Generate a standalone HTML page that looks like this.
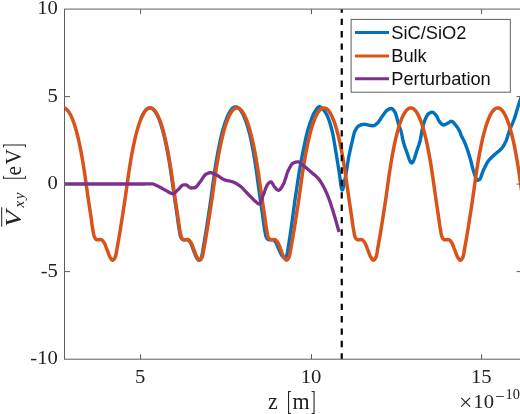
<!DOCTYPE html>
<html><head><meta charset="utf-8"><title>plot</title>
<style>
html,body{margin:0;padding:0;background:#fff;}
body{width:520px;height:414px;overflow:hidden;}
svg{display:block;}
.tk{font-family:"Liberation Serif", serif;font-size:19.5px;fill:#222;}
.lb2{font-family:"Liberation Serif", serif;font-size:22.8px;fill:#222;}
.lbi{font-family:"Liberation Serif", serif;font-size:23.7px;font-style:italic;fill:#222;}
.lb{font-family:"Liberation Serif", serif;font-size:23px;fill:#222;}
.br{font-family:"Liberation Serif", serif;font-size:23px;fill:#222;}
.lg{font-family:"Liberation Sans", sans-serif;font-size:18.3px;fill:#111;}
</style></head><body>
<svg width="520" height="414" viewBox="0 0 520 414">
<rect x="0" y="0" width="520" height="414" fill="#fff"/>
<defs><clipPath id="cp"><rect x="64.5" y="9.1" width="470" height="350.09999999999997"/></clipPath></defs>

<g clip-path="url(#cp)" fill="none" stroke-linejoin="round" stroke-linecap="butt">
<path d="M141.0,118.7 L141.5,117.5 L142.0,116.4 L142.5,115.3 L143.0,114.3 L143.5,113.4 L144.0,112.6 L144.5,111.8 L145.0,111.1 L145.5,110.5 L146.0,109.9 L146.5,109.5 L147.0,109.0 L147.5,108.7 L148.0,108.4 L148.5,108.2 L149.0,108.0 L149.5,107.9 L150.0,107.9 L150.5,108.0 L151.0,108.1 L151.5,108.2 L152.0,108.5 L152.5,108.8 L153.0,109.2 L153.5,109.6 L154.0,110.2 L154.5,110.7 L155.0,111.4 L155.5,112.1 L156.0,112.9 L156.5,113.8 L157.0,114.7 L157.5,115.7 L158.0,116.8 L158.5,118.0 L159.0,119.2 L159.5,120.5 L160.0,121.9 L160.5,123.3 L161.0,124.8 L161.5,126.4 L162.0,128.1 L162.5,129.8 L163.0,131.7 L163.5,133.6 L164.0,135.6 L164.5,137.6 L165.0,139.8 L165.5,142.1 L166.0,144.4 L166.5,146.8 L167.0,149.3 L167.5,151.9 L168.0,154.6 L168.5,157.5 L169.0,160.3 L169.5,163.3 L170.0,166.4 L170.5,169.7 L171.0,173.0 L171.5,176.4 L172.0,179.9 L172.5,183.6 L173.0,187.1 L173.5,190.6 L174.0,194.1 L174.5,197.6 L175.0,201.0 L175.5,204.4 L176.0,207.8 L176.5,211.1 L177.0,214.5 L177.5,218.0 L178.0,221.7 L178.5,225.3 L179.0,228.5 L179.5,231.4 L180.0,234.1 L180.5,236.3 L181.0,237.5 L181.5,238.3 L182.0,238.9 L182.5,239.4 L183.0,239.7 L183.5,239.8 L184.0,239.8 L184.5,239.8 L185.0,239.7 L185.5,239.7 L186.0,239.6 L186.5,239.6 L187.0,239.6 L187.5,239.7 L188.0,239.9 L188.5,240.3 L189.0,240.8 L189.5,241.4 L190.0,242.1 L190.5,242.8 L191.0,243.8 L191.5,244.9 L192.0,246.3 L192.5,247.7 L193.0,249.0 L193.5,250.3 L194.0,251.6 L194.5,252.9 L195.0,254.3 L195.5,255.6 L196.0,256.7 L196.5,257.5 L197.0,258.3 L197.5,259.1 L198.0,259.7 L198.5,260.1 L199.0,260.2 L199.5,260.0 L200.0,259.5 L200.5,258.9 L201.0,258.0 L201.5,257.0 L202.0,255.2 L202.5,252.5 L203.0,249.4 L203.5,246.3 L204.0,243.5 L204.5,240.6 L205.0,237.6 L205.5,234.5 L206.0,231.4 L206.5,228.3 L207.0,225.1 L207.5,221.8 L208.0,218.5 L208.5,215.2 L209.0,211.8 L209.5,208.5 L210.0,205.2 L210.5,201.8 L211.0,198.3 L211.5,194.6 L212.0,190.9 L212.5,187.1 L213.0,183.4 L213.5,179.7 L214.0,176.1 L214.5,172.6 L215.0,169.2 L215.5,166.0 L216.0,162.9 L216.5,159.9 L217.0,157.0 L217.5,154.2 L218.0,151.5 L218.5,148.9 L219.0,146.4 L219.5,144.0 L220.0,141.7 L220.5,139.4 L221.0,137.3 L221.5,135.2 L222.0,133.2 L222.5,131.3 L223.0,129.5 L223.5,127.7 L224.0,126.0 L224.5,124.4 L225.0,122.9 L225.5,121.4 L226.0,120.1 L226.5,118.7 L227.0,117.5 L227.5,116.3 L228.0,115.2 L228.5,114.2 L229.0,113.2 L229.5,112.3 L230.0,111.5 L230.5,110.7 L231.0,110.0 L231.5,109.4 L232.0,108.8 L232.5,108.3 L233.0,107.9 L233.5,107.6 L234.0,107.3 L234.5,107.1 L235.0,107.0 L235.5,106.9 L236.0,106.9 L236.5,107.0 L237.0,107.2 L237.5,107.4 L238.0,107.7 L238.5,108.1 L239.0,108.5 L239.5,109.0 L240.0,109.6 L240.5,110.2 L241.0,111.0 L241.5,111.7 L242.0,112.6 L242.5,113.5 L243.0,114.5 L243.5,115.5 L244.0,116.6 L244.5,117.8 L245.0,119.1 L245.5,120.4 L246.0,121.8 L246.5,123.2 L247.0,124.7 L247.5,126.3 L248.0,128.0 L248.5,129.7 L249.0,131.6 L249.5,133.4 L250.0,135.4 L250.5,137.6 L251.0,139.9 L251.5,142.3 L252.0,144.8 L252.5,147.4 L253.0,150.0 L253.5,152.8 L254.0,155.7 L254.5,158.7 L255.0,161.8 L255.5,165.1 L256.0,168.4 L256.5,171.8 L257.0,175.4 L257.5,179.1 L258.0,183.0 L258.5,186.6 L259.0,190.2 L259.5,193.8 L260.0,197.3 L260.5,200.8 L261.0,204.3 L261.5,207.7 L262.0,211.1 L262.5,214.6 L263.0,218.2 L263.5,222.0 L264.0,225.6 L264.5,228.8 L265.0,231.7 L265.5,234.4 L266.0,236.5 L266.5,237.6 L267.0,238.4 L267.5,239.0 L268.0,239.5 L268.5,239.7 L269.0,239.8 L269.5,239.8 L270.0,239.8 L270.5,239.7 L271.0,239.7 L271.5,239.6 L272.0,239.6 L272.5,239.6 L273.0,239.7 L273.5,239.9 L274.0,240.3 L274.5,240.8 L275.0,241.4 L275.5,242.0 L276.0,242.7 L276.5,243.6 L277.0,244.8 L277.5,246.0 L278.0,247.3 L278.5,248.5 L279.0,249.7 L279.5,250.8 L280.0,251.9 L280.5,253.1 L281.0,254.1 L281.5,255.0 L282.0,255.6 L282.5,256.2 L283.0,256.8 L283.5,257.3 L284.0,257.7 L284.5,257.9 L285.0,257.8 L285.5,257.4 L286.0,256.7 L286.5,256.0 L287.0,254.6 L287.5,252.0 L288.0,248.8 L288.5,245.5 L289.0,242.5 L289.5,239.3 L290.0,236.0 L290.5,232.6 L291.0,229.2 L291.5,225.7 L292.0,222.1 L292.5,218.4 L293.0,214.7 L293.5,211.0 L294.0,207.3 L294.5,203.6 L295.0,199.7 L295.5,196.5 L296.0,193.2 L296.5,189.8 L297.0,186.5 L297.5,183.1 L298.0,179.8 L298.5,176.5 L299.0,173.3 L299.5,170.3 L300.0,167.3 L300.5,164.5 L301.0,161.8 L301.5,159.1 L302.0,156.6 L302.5,154.1 L303.0,151.7 L303.5,149.2 L304.0,146.8 L304.5,144.3 L305.0,141.9 L305.5,139.6 L306.0,137.3 L306.5,135.2 L307.0,133.2 L307.5,131.3 L308.0,129.5 L308.5,127.8 L309.0,126.2 L309.5,124.6 L310.0,123.1 L310.5,121.6 L311.0,120.3 L311.5,118.9 L312.0,117.6 L312.5,116.4 L313.0,115.2 L313.5,114.1 L314.0,113.1 L314.5,112.3 L315.0,111.5 L315.5,110.7 L316.0,110.0 L316.5,109.2 L317.0,108.5 L317.5,107.9 L318.0,107.4 L318.5,107.0 L319.0,106.8 L319.5,106.7 L320.0,106.8 L320.5,107.0 L321.0,107.3 L321.5,107.7 L322.0,108.2 L322.5,108.7 L323.0,109.3 L323.5,109.8 L324.0,110.4 L324.5,111.0 L325.0,111.7 L325.5,112.5 L326.0,113.4 L326.5,114.3 L327.0,115.3 L327.5,116.4 L328.0,117.5 L328.5,118.8 L329.0,120.1 L329.5,121.6 L330.0,123.2 L330.5,124.9 L331.0,126.8 L331.5,128.7 L332.0,130.7 L332.5,132.7 L333.0,135.0 L333.5,137.6 L334.0,140.5 L334.5,143.5 L335.0,146.5 L335.5,149.5 L336.0,152.5 L336.5,155.6 L337.0,158.7 L337.5,161.8 L338.0,164.9 L338.5,168.0 L339.0,171.0 L339.5,174.4 L340.0,178.3 L340.5,182.2 L341.0,185.7 L341.5,188.4 L342.0,189.9 L342.5,189.8 L343.0,188.6 L343.5,186.7 L344.0,184.3 L344.5,181.6 L345.0,179.0 L345.5,176.5 L346.0,173.7 L346.5,170.7 L347.0,167.5 L347.5,164.3 L348.0,161.2 L348.5,158.3 L349.0,155.7 L349.5,153.3 L350.0,151.0 L350.5,148.7 L351.0,146.5 L351.5,144.4 L352.0,142.3 L352.5,140.1 L353.0,137.9 L353.5,135.7 L354.0,133.8 L354.5,132.2 L355.0,131.0 L355.5,130.0 L356.0,129.2 L356.5,128.3 L357.0,127.6 L357.5,127.0 L358.0,126.5 L358.5,126.1 L359.0,125.8 L359.5,125.5 L360.0,125.3 L360.5,125.1 L361.0,124.9 L361.5,124.7 L362.0,124.6 L362.5,124.5 L363.0,124.4 L363.5,124.3 L364.0,124.3 L364.5,124.3 L365.0,124.3 L365.5,124.4 L366.0,124.5 L366.5,124.6 L367.0,124.7 L367.5,124.8 L368.0,125.0 L368.5,125.1 L369.0,125.2 L369.5,125.3 L370.0,125.4 L370.5,125.5 L371.0,125.5 L371.5,125.6 L372.0,125.7 L372.5,125.7 L373.0,125.7 L373.5,125.7 L374.0,125.6 L374.5,125.4 L375.0,125.1 L375.5,124.8 L376.0,124.3 L376.5,123.9 L377.0,123.4 L377.5,123.0 L378.0,122.5 L378.5,122.0 L379.0,121.3 L379.5,120.6 L380.0,119.8 L380.5,119.0 L381.0,118.2 L381.5,117.4 L382.0,116.7 L382.5,115.9 L383.0,115.2 L383.5,114.6 L384.0,113.9 L384.5,113.2 L385.0,112.6 L385.5,111.9 L386.0,111.3 L386.5,110.8 L387.0,110.3 L387.5,110.0 L388.0,109.7 L388.5,109.4 L389.0,109.2 L389.5,108.9 L390.0,108.7 L390.5,108.6 L391.0,108.5 L391.5,108.5 L392.0,108.7 L392.5,109.0 L393.0,109.5 L393.5,110.1 L394.0,110.8 L394.5,111.5 L395.0,112.2 L395.5,113.3 L396.0,114.7 L396.5,116.5 L397.0,118.5 L397.5,120.5 L398.0,122.4 L398.5,124.2 L399.0,125.7 L399.5,127.0 L400.0,128.2 L400.5,129.5 L401.0,131.0 L401.5,133.0 L402.0,135.5 L402.5,138.1 L403.0,140.5 L403.5,142.4 L404.0,144.1 L404.5,145.7 L405.0,147.2 L405.5,148.6 L406.0,149.9 L406.5,151.3 L407.0,152.7 L407.5,154.1 L408.0,155.7 L408.5,157.2 L409.0,158.6 L409.5,159.9 L410.0,161.1 L410.5,162.0 L411.0,162.6 L411.5,163.0 L412.0,162.9 L412.5,162.5 L413.0,161.8 L413.5,160.8 L414.0,159.5 L414.5,158.1 L415.0,156.6 L415.5,155.0 L416.0,153.3 L416.5,151.7 L417.0,150.2 L417.5,148.8 L418.0,147.4 L418.5,146.0 L419.0,144.5 L419.5,142.8 L420.0,141.0 L420.5,138.9 L421.0,136.1 L421.5,133.1 L422.0,130.5 L422.5,128.3 L423.0,126.3 L423.5,124.4 L424.0,122.6 L424.5,121.1 L425.0,119.9 L425.5,118.7 L426.0,117.6 L426.5,116.5 L427.0,115.6 L427.5,114.8 L428.0,114.2 L428.5,113.8 L429.0,113.4 L429.5,113.1 L430.0,112.9 L430.5,112.6 L431.0,112.5 L431.5,112.3 L432.0,112.3 L432.5,112.3 L433.0,112.4 L433.5,112.7 L434.0,113.1 L434.5,113.6 L435.0,114.1 L435.5,114.7 L436.0,115.2 L436.5,115.9 L437.0,116.8 L437.5,117.8 L438.0,118.9 L438.5,119.9 L439.0,120.9 L439.5,121.7 L440.0,122.3 L440.5,122.8 L441.0,123.4 L441.5,123.9 L442.0,124.3 L442.5,124.7 L443.0,124.9 L443.5,125.0 L444.0,125.0 L444.5,124.8 L445.0,124.6 L445.5,124.4 L446.0,124.1 L446.5,123.9 L447.0,123.6 L447.5,123.4 L448.0,123.1 L448.5,122.8 L449.0,122.4 L449.5,122.1 L450.0,121.8 L450.5,121.5 L451.0,121.4 L451.5,121.3 L452.0,121.4 L452.5,121.7 L453.0,122.0 L453.5,122.5 L454.0,123.1 L454.5,123.7 L455.0,124.4 L455.5,125.0 L456.0,125.6 L456.5,126.2 L457.0,126.9 L457.5,127.6 L458.0,128.3 L458.5,129.2 L459.0,130.0 L459.5,131.0 L460.0,132.2 L460.5,133.5 L461.0,134.8 L461.5,136.0 L462.0,137.1 L462.5,138.0 L463.0,139.0 L463.5,139.9 L464.0,140.9 L464.5,142.0 L465.0,143.2 L465.5,144.4 L466.0,145.8 L466.5,147.1 L467.0,148.5 L467.5,150.0 L468.0,151.5 L468.5,153.0 L469.0,154.6 L469.5,156.2 L470.0,157.8 L470.5,159.6 L471.0,161.5 L471.5,163.5 L472.0,165.5 L472.5,167.5 L473.0,169.4 L473.5,171.2 L474.0,172.8 L474.5,174.2 L475.0,175.7 L475.5,177.2 L476.0,178.5 L476.5,179.6 L477.0,180.2 L477.5,180.2 L478.0,180.1 L478.5,180.0 L479.0,179.8 L479.5,179.5 L480.0,179.0 L480.5,178.0 L481.0,176.8 L481.5,175.4 L482.0,173.9 L482.5,172.4 L483.0,171.1 L483.5,170.0 L484.0,168.9 L484.5,167.9 L485.0,166.8 L485.5,165.8 L486.0,164.9 L486.5,163.9 L487.0,163.0 L487.5,162.2 L488.0,161.4 L488.5,160.8 L489.0,160.1 L489.5,159.5 L490.0,159.0 L490.5,158.5 L491.0,158.0 L491.5,157.5 L492.0,157.0 L492.5,156.6 L493.0,156.1 L493.5,155.7 L494.0,155.2 L494.5,154.8 L495.0,154.3 L495.5,153.9 L496.0,153.4 L496.5,153.0 L497.0,152.6 L497.5,152.2 L498.0,151.8 L498.5,151.4 L499.0,151.0 L499.5,150.6 L500.0,150.1 L500.5,149.7 L501.0,149.1 L501.5,148.6 L502.0,148.0 L502.5,147.4 L503.0,146.6 L503.5,145.8 L504.0,145.0 L504.5,144.1 L505.0,143.1 L505.5,142.1 L506.0,141.0 L506.5,139.8 L507.0,138.3 L507.5,136.8 L508.0,135.1 L508.5,133.5 L509.0,131.9 L509.5,130.5 L510.0,129.2 L510.5,128.0 L511.0,126.8 L511.5,125.6 L512.0,124.5 L512.5,123.3 L513.0,122.1 L513.5,120.8 L514.0,119.5 L514.5,118.1 L515.0,116.6 L515.5,115.0 L516.0,113.4 L516.5,111.8 L517.0,110.1 L517.5,108.4 L518.0,106.8 L518.5,105.1 L519.0,103.5 L519.5,102.0 L520.0,100.5 L520.5,99.0 L521.0,97.6 L521.5,96.2 L522.0,94.8 L522.5,93.4 L523.0,92.0" stroke="#0072BD" stroke-width="3.4"/>
<path d="M60.0,109.2 L60.5,108.8 L61.0,108.5 L61.5,108.3 L62.0,108.1 L62.5,108.0 L63.0,107.9 L63.5,107.9 L64.0,108.0 L64.5,108.1 L65.0,108.3 L65.5,108.6 L66.0,108.9 L66.5,109.3 L67.0,109.8 L67.5,110.3 L68.0,110.9 L68.5,111.5 L69.0,112.3 L69.5,113.1 L70.0,113.9 L70.5,114.8 L71.0,115.8 L71.5,116.9 L72.0,118.0 L72.5,119.2 L73.0,120.5 L73.5,121.9 L74.0,123.3 L74.5,124.8 L75.0,126.4 L75.5,128.0 L76.0,129.8 L76.5,131.6 L77.0,133.5 L77.5,135.5 L78.0,137.5 L78.5,139.7 L79.0,141.9 L79.5,144.2 L80.0,146.6 L80.5,149.1 L81.0,151.7 L81.5,154.4 L82.0,157.1 L82.5,160.0 L83.0,163.0 L83.5,166.0 L84.0,169.2 L84.5,172.5 L85.0,175.8 L85.5,179.4 L86.0,183.0 L86.5,186.5 L87.0,190.0 L87.5,193.5 L88.0,196.9 L88.5,200.4 L89.0,203.7 L89.5,207.1 L90.0,210.4 L90.5,213.7 L91.0,217.1 L91.5,220.8 L92.0,224.4 L92.5,227.7 L93.0,230.6 L93.5,233.4 L94.0,235.8 L94.5,237.3 L95.0,238.1 L95.5,238.8 L96.0,239.3 L96.5,239.7 L97.0,239.8 L97.5,239.8 L98.0,239.8 L98.5,239.7 L99.0,239.7 L99.5,239.7 L100.0,239.6 L100.5,239.6 L101.0,239.6 L101.5,239.8 L102.0,240.1 L102.5,240.6 L103.0,241.2 L103.5,241.8 L104.0,242.4 L104.5,243.3 L105.0,244.4 L105.5,245.6 L106.0,247.0 L106.5,248.4 L107.0,249.7 L107.5,250.9 L108.0,252.2 L108.5,253.6 L109.0,254.9 L109.5,256.1 L110.0,257.1 L110.5,257.9 L111.0,258.7 L111.5,259.4 L112.0,259.9 L112.5,260.2 L113.0,260.1 L113.5,259.8 L114.0,259.3 L114.5,258.6 L115.0,257.7 L115.5,256.6 L116.0,254.5 L116.5,251.8 L117.0,248.8 L117.5,245.9 L118.0,243.1 L118.5,240.3 L119.0,237.4 L119.5,234.4 L120.0,231.4 L120.5,228.4 L121.0,225.3 L121.5,222.1 L122.0,218.9 L122.5,215.7 L123.0,212.5 L123.5,209.3 L124.0,206.0 L124.5,202.8 L125.0,199.4 L125.5,195.9 L126.0,192.3 L126.5,188.7 L127.0,185.1 L127.5,181.5 L128.0,177.9 L128.5,174.5 L129.0,171.2 L129.5,167.9 L130.0,164.8 L130.5,161.8 L131.0,158.8 L131.5,156.0 L132.0,153.3 L132.5,150.6 L133.0,148.1 L133.5,145.6 L134.0,143.3 L134.5,141.0 L135.0,138.8 L135.5,136.7 L136.0,134.7 L136.5,132.7 L137.0,130.9 L137.5,129.1 L138.0,127.4 L138.5,125.8 L139.0,124.2 L139.5,122.7 L140.0,121.3 L140.5,120.0 L141.0,118.8 L141.5,117.6 L142.0,116.5 L142.5,115.4 L143.0,114.5 L143.5,113.6 L144.0,112.7 L144.5,112.0 L145.0,111.3 L145.5,110.6 L146.0,110.1 L146.5,109.6 L147.0,109.1 L147.5,108.8 L148.0,108.5 L148.5,108.2 L149.0,108.1 L149.5,108.0 L150.0,107.9 L150.5,107.9 L151.0,108.0 L151.5,108.1 L152.0,108.4 L152.5,108.6 L153.0,109.0 L153.5,109.4 L154.0,109.9 L154.5,110.4 L155.0,111.0 L155.5,111.7 L156.0,112.4 L156.5,113.2 L157.0,114.1 L157.5,115.0 L158.0,116.0 L158.5,117.1 L159.0,118.3 L159.5,119.5 L160.0,120.8 L160.5,122.2 L161.0,123.6 L161.5,125.1 L162.0,126.7 L162.5,128.4 L163.0,130.1 L163.5,132.0 L164.0,133.9 L164.5,135.9 L165.0,137.9 L165.5,140.1 L166.0,142.3 L166.5,144.7 L167.0,147.1 L167.5,149.6 L168.0,152.2 L168.5,154.9 L169.0,157.7 L169.5,160.6 L170.0,163.6 L170.5,166.7 L171.0,169.8 L171.5,173.1 L172.0,176.5 L172.5,180.1 L173.0,183.7 L173.5,187.2 L174.0,190.7 L174.5,194.2 L175.0,197.6 L175.5,201.0 L176.0,204.4 L176.5,207.7 L177.0,211.1 L177.5,214.4 L178.0,217.9 L178.5,221.5 L179.0,225.1 L179.5,228.3 L180.0,231.2 L180.5,233.9 L181.0,236.1 L181.5,237.4 L182.0,238.2 L182.5,238.9 L183.0,239.4 L183.5,239.7 L184.0,239.8 L184.5,239.8 L185.0,239.8 L185.5,239.7 L186.0,239.7 L186.5,239.6 L187.0,239.6 L187.5,239.6 L188.0,239.6 L188.5,239.8 L189.0,240.2 L189.5,240.7 L190.0,241.3 L190.5,241.9 L191.0,242.6 L191.5,243.5 L192.0,244.6 L192.5,245.9 L193.0,247.3 L193.5,248.6 L194.0,249.9 L194.5,251.2 L195.0,252.5 L195.5,253.9 L196.0,255.2 L196.5,256.3 L197.0,257.3 L197.5,258.0 L198.0,258.8 L198.5,259.5 L199.0,260.0 L199.5,260.2 L200.0,260.1 L200.5,259.7 L201.0,259.2 L201.5,258.4 L202.0,257.5 L202.5,256.2 L203.0,254.0 L203.5,251.3 L204.0,248.2 L204.5,245.3 L205.0,242.6 L205.5,239.7 L206.0,236.8 L206.5,233.8 L207.0,230.8 L207.5,227.8 L208.0,224.7 L208.5,221.5 L209.0,218.3 L209.5,215.0 L210.0,211.8 L210.5,208.6 L211.0,205.4 L211.5,202.1 L212.0,198.7 L212.5,195.2 L213.0,191.6 L213.5,188.0 L214.0,184.4 L214.5,180.8 L215.0,177.2 L215.5,173.8 L216.0,170.5 L216.5,167.3 L217.0,164.2 L217.5,161.2 L218.0,158.3 L218.5,155.5 L219.0,152.7 L219.5,150.1 L220.0,147.6 L220.5,145.2 L221.0,142.8 L221.5,140.5 L222.0,138.4 L222.5,136.3 L223.0,134.3 L223.5,132.3 L224.0,130.5 L224.5,128.7 L225.0,127.0 L225.5,125.4 L226.0,123.9 L226.5,122.4 L227.0,121.1 L227.5,119.8 L228.0,118.5 L228.5,117.3 L229.0,116.3 L229.5,115.2 L230.0,114.3 L230.5,113.4 L231.0,112.6 L231.5,111.8 L232.0,111.1 L232.5,110.5 L233.0,110.0 L233.5,109.5 L234.0,109.1 L234.5,108.7 L235.0,108.4 L235.5,108.2 L236.0,108.0 L236.5,107.9 L237.0,107.9 L237.5,107.9 L238.0,108.0 L238.5,108.2 L239.0,108.4 L239.5,108.7 L240.0,109.1 L240.5,109.5 L241.0,110.0 L241.5,110.5 L242.0,111.1 L242.5,111.8 L243.0,112.6 L243.5,113.4 L244.0,114.3 L244.5,115.2 L245.0,116.3 L245.5,117.3 L246.0,118.5 L246.5,119.8 L247.0,121.1 L247.5,122.4 L248.0,123.9 L248.5,125.4 L249.0,127.0 L249.5,128.7 L250.0,130.5 L250.5,132.3 L251.0,134.3 L251.5,136.3 L252.0,138.4 L252.5,140.5 L253.0,142.8 L253.5,145.2 L254.0,147.6 L254.5,150.1 L255.0,152.7 L255.5,155.5 L256.0,158.3 L256.5,161.2 L257.0,164.2 L257.5,167.3 L258.0,170.5 L258.5,173.8 L259.0,177.2 L259.5,180.8 L260.0,184.4 L260.5,187.9 L261.0,191.4 L261.5,194.9 L262.0,198.3 L262.5,201.7 L263.0,205.1 L263.5,208.4 L264.0,211.7 L264.5,215.1 L265.0,218.6 L265.5,222.3 L266.0,225.8 L266.5,228.9 L267.0,231.7 L267.5,234.4 L268.0,236.5 L268.5,237.6 L269.0,238.4 L269.5,239.0 L270.0,239.5 L270.5,239.7 L271.0,239.8 L271.5,239.8 L272.0,239.8 L272.5,239.7 L273.0,239.7 L273.5,239.6 L274.0,239.6 L274.5,239.6 L275.0,239.7 L275.5,239.9 L276.0,240.3 L276.5,240.8 L277.0,241.4 L277.5,242.0 L278.0,242.7 L278.5,243.7 L279.0,244.9 L279.5,246.2 L280.0,247.5 L280.5,248.9 L281.0,250.1 L281.5,251.4 L282.0,252.8 L282.5,254.1 L283.0,255.4 L283.5,256.5 L284.0,257.4 L284.5,258.2 L285.0,258.9 L285.5,259.6 L286.0,260.0 L286.5,260.2 L287.0,260.0 L287.5,259.6 L288.0,259.0 L288.5,258.2 L289.0,257.4 L289.5,255.9 L290.0,253.5 L290.5,250.7 L291.0,247.6 L291.5,244.8 L292.0,242.0 L292.5,239.2 L293.0,236.2 L293.5,233.2 L294.0,230.2 L294.5,227.2 L295.0,224.0 L295.5,220.8 L296.0,217.6 L296.5,214.4 L297.0,211.2 L297.5,208.0 L298.0,204.7 L298.5,201.4 L299.0,198.0 L299.5,194.5 L300.0,190.9 L300.5,187.3 L301.0,183.7 L301.5,180.1 L302.0,176.5 L302.5,173.1 L303.0,169.8 L303.5,166.7 L304.0,163.6 L304.5,160.6 L305.0,157.7 L305.5,154.9 L306.0,152.2 L306.5,149.6 L307.0,147.1 L307.5,144.7 L308.0,142.3 L308.5,140.1 L309.0,137.9 L309.5,135.9 L310.0,133.9 L310.5,132.0 L311.0,130.1 L311.5,128.4 L312.0,126.7 L312.5,125.1 L313.0,123.6 L313.5,122.2 L314.0,120.8 L314.5,119.5 L315.0,118.3 L315.5,117.1 L316.0,116.0 L316.5,115.0 L317.0,114.1 L317.5,113.2 L318.0,112.4 L318.5,111.7 L319.0,111.0 L319.5,110.4 L320.0,109.9 L320.5,109.4 L321.0,109.0 L321.5,108.6 L322.0,108.4 L322.5,108.1 L323.0,108.0 L323.5,107.9 L324.0,107.9 L324.5,108.0 L325.0,108.1 L325.5,108.2 L326.0,108.5 L326.5,108.8 L327.0,109.1 L327.5,109.6 L328.0,110.1 L328.5,110.6 L329.0,111.3 L329.5,112.0 L330.0,112.7 L330.5,113.6 L331.0,114.5 L331.5,115.4 L332.0,116.5 L332.5,117.6 L333.0,118.8 L333.5,120.0 L334.0,121.3 L334.5,122.7 L335.0,124.2 L335.5,125.8 L336.0,127.4 L336.5,129.1 L337.0,130.9 L337.5,132.7 L338.0,134.7 L338.5,136.7 L339.0,138.8 L339.5,141.0 L340.0,143.3 L340.5,145.6 L341.0,148.1 L341.5,150.6 L342.0,153.3 L342.5,156.0 L343.0,158.8 L343.5,161.8 L344.0,164.8 L344.5,167.9 L345.0,171.2 L345.5,174.5 L346.0,177.9 L346.5,181.5 L347.0,185.1 L347.5,188.6 L348.0,192.1 L348.5,195.6 L349.0,199.0 L349.5,202.4 L350.0,205.7 L350.5,209.1 L351.0,212.4 L351.5,215.8 L352.0,219.3 L352.5,223.0 L353.0,226.5 L353.5,229.4 L354.0,232.3 L354.5,234.9 L355.0,236.8 L355.5,237.7 L356.0,238.5 L356.5,239.1 L357.0,239.5 L357.5,239.8 L358.0,239.8 L358.5,239.8 L359.0,239.7 L359.5,239.7 L360.0,239.7 L360.5,239.6 L361.0,239.6 L361.5,239.6 L362.0,239.7 L362.5,240.0 L363.0,240.4 L363.5,240.9 L364.0,241.5 L364.5,242.2 L365.0,242.9 L365.5,243.9 L366.0,245.1 L366.5,246.5 L367.0,247.8 L367.5,249.2 L368.0,250.4 L368.5,251.7 L369.0,253.1 L369.5,254.4 L370.0,255.6 L370.5,256.7 L371.0,257.6 L371.5,258.3 L372.0,259.1 L372.5,259.7 L373.0,260.1 L373.5,260.2 L374.0,260.0 L374.5,259.5 L375.0,258.9 L375.5,258.1 L376.0,257.1 L376.5,255.4 L377.0,253.0 L377.5,250.1 L378.0,247.0 L378.5,244.2 L379.0,241.4 L379.5,238.6 L380.0,235.6 L380.5,232.6 L381.0,229.6 L381.5,226.5 L382.0,223.4 L382.5,220.2 L383.0,217.0 L383.5,213.8 L384.0,210.6 L384.5,207.3 L385.0,204.1 L385.5,200.7 L386.0,197.3 L386.5,193.8 L387.0,190.2 L387.5,186.5 L388.0,183.0 L388.5,179.4 L389.0,175.8 L389.5,172.5 L390.0,169.2 L390.5,166.0 L391.0,163.0 L391.5,160.0 L392.0,157.1 L392.5,154.4 L393.0,151.7 L393.5,149.1 L394.0,146.6 L394.5,144.2 L395.0,141.9 L395.5,139.7 L396.0,137.5 L396.5,135.5 L397.0,133.5 L397.5,131.6 L398.0,129.8 L398.5,128.0 L399.0,126.4 L399.5,124.8 L400.0,123.3 L400.5,121.9 L401.0,120.5 L401.5,119.2 L402.0,118.0 L402.5,116.9 L403.0,115.8 L403.5,114.8 L404.0,113.9 L404.5,113.1 L405.0,112.3 L405.5,111.5 L406.0,110.9 L406.5,110.3 L407.0,109.8 L407.5,109.3 L408.0,108.9 L408.5,108.6 L409.0,108.3 L409.5,108.1 L410.0,108.0 L410.5,107.9 L411.0,107.9 L411.5,108.0 L412.0,108.1 L412.5,108.3 L413.0,108.5 L413.5,108.8 L414.0,109.2 L414.5,109.7 L415.0,110.2 L415.5,110.8 L416.0,111.4 L416.5,112.1 L417.0,112.9 L417.5,113.7 L418.0,114.6 L418.5,115.6 L419.0,116.7 L419.5,117.8 L420.0,119.0 L420.5,120.3 L421.0,121.6 L421.5,123.0 L422.0,124.5 L422.5,126.1 L423.0,127.7 L423.5,129.4 L424.0,131.2 L424.5,133.1 L425.0,135.1 L425.5,137.1 L426.0,139.2 L426.5,141.4 L427.0,143.7 L427.5,146.1 L428.0,148.6 L428.5,151.2 L429.0,153.8 L429.5,156.6 L430.0,159.4 L430.5,162.4 L431.0,165.4 L431.5,168.6 L432.0,171.8 L432.5,175.2 L433.0,178.6 L433.5,182.2 L434.0,185.8 L434.5,189.3 L435.0,192.8 L435.5,196.3 L436.0,199.7 L436.5,203.1 L437.0,206.4 L437.5,209.7 L438.0,213.1 L438.5,216.4 L439.0,220.1 L439.5,223.7 L440.0,227.1 L440.5,230.0 L441.0,232.9 L441.5,235.3 L442.0,237.0 L442.5,237.9 L443.0,238.6 L443.5,239.2 L444.0,239.6 L444.5,239.8 L445.0,239.8 L445.5,239.8 L446.0,239.7 L446.5,239.7 L447.0,239.7 L447.5,239.6 L448.0,239.6 L448.5,239.6 L449.0,239.7 L449.5,240.1 L450.0,240.5 L450.5,241.0 L451.0,241.7 L451.5,242.3 L452.0,243.1 L452.5,244.1 L453.0,245.4 L453.5,246.7 L454.0,248.1 L454.5,249.4 L455.0,250.6 L455.5,252.0 L456.0,253.3 L456.5,254.7 L457.0,255.9 L457.5,256.9 L458.0,257.7 L458.5,258.5 L459.0,259.2 L459.5,259.8 L460.0,260.1 L460.5,260.2 L461.0,259.9 L461.5,259.4 L462.0,258.7 L462.5,257.9 L463.0,256.9 L463.5,255.0 L464.0,252.4 L464.5,249.4 L465.0,246.4 L465.5,243.7 L466.0,240.9 L466.5,238.0 L467.0,235.0 L467.5,232.0 L468.0,229.0 L468.5,225.9 L469.0,222.8 L469.5,219.6 L470.0,216.3 L470.5,213.1 L471.0,209.9 L471.5,206.7 L472.0,203.4 L472.5,200.1 L473.0,196.6 L473.5,193.1 L474.0,189.4 L474.5,185.8 L475.0,182.2 L475.5,178.6 L476.0,175.2 L476.5,171.8 L477.0,168.6 L477.5,165.4 L478.0,162.4 L478.5,159.4 L479.0,156.6 L479.5,153.8 L480.0,151.2 L480.5,148.6 L481.0,146.1 L481.5,143.7 L482.0,141.4 L482.5,139.2 L483.0,137.1 L483.5,135.1 L484.0,133.1 L484.5,131.2 L485.0,129.4 L485.5,127.7 L486.0,126.1 L486.5,124.5 L487.0,123.0 L487.5,121.6 L488.0,120.3 L488.5,119.0 L489.0,117.8 L489.5,116.7 L490.0,115.6 L490.5,114.6 L491.0,113.7 L491.5,112.9 L492.0,112.1 L492.5,111.4 L493.0,110.8 L493.5,110.2 L494.0,109.7 L494.5,109.2 L495.0,108.8 L495.5,108.5 L496.0,108.3 L496.5,108.1 L497.0,108.0 L497.5,107.9 L498.0,107.9 L498.5,108.0 L499.0,108.1 L499.5,108.3 L500.0,108.6 L500.5,108.9 L501.0,109.3 L501.5,109.8 L502.0,110.3 L502.5,110.9 L503.0,111.5 L503.5,112.3 L504.0,113.1 L504.5,113.9 L505.0,114.8 L505.5,115.8 L506.0,116.9 L506.5,118.0 L507.0,119.2 L507.5,120.5 L508.0,121.9 L508.5,123.3 L509.0,124.8 L509.5,126.4 L510.0,128.0 L510.5,129.8 L511.0,131.6 L511.5,133.5 L512.0,135.5 L512.5,137.5 L513.0,139.7 L513.5,141.9 L514.0,144.2 L514.5,146.6 L515.0,149.1 L515.5,151.7 L516.0,154.4 L516.5,157.1 L517.0,160.0 L517.5,163.0 L518.0,166.0 L518.5,169.2 L519.0,172.5 L519.5,175.8 L520.0,179.4 L520.5,183.0 L521.0,186.5 L521.5,190.0 L522.0,193.5 L522.5,196.9 L523.0,200.4 L523.5,203.7" stroke="#D95319" stroke-width="3.5"/>
<path d="M64.5,184.0 L65.0,184.0 L65.5,184.0 L66.0,184.0 L66.5,184.0 L67.0,184.0 L67.5,184.0 L68.0,184.0 L68.5,184.0 L69.0,184.0 L69.5,184.0 L70.0,184.0 L70.5,184.0 L71.0,184.0 L71.5,184.0 L72.0,184.0 L72.5,184.0 L73.0,184.0 L73.5,184.0 L74.0,184.0 L74.5,184.0 L75.0,184.0 L75.5,184.0 L76.0,184.0 L76.5,184.0 L77.0,184.0 L77.5,184.0 L78.0,184.0 L78.5,184.0 L79.0,184.0 L79.5,184.0 L80.0,184.0 L80.5,184.0 L81.0,184.0 L81.5,184.0 L82.0,184.0 L82.5,184.0 L83.0,184.0 L83.5,184.0 L84.0,184.0 L84.5,184.0 L85.0,184.0 L85.5,184.0 L86.0,184.0 L86.5,184.0 L87.0,184.0 L87.5,184.0 L88.0,184.0 L88.5,184.0 L89.0,184.0 L89.5,184.0 L90.0,184.0 L90.5,184.0 L91.0,184.0 L91.5,184.0 L92.0,184.0 L92.5,184.0 L93.0,184.0 L93.5,184.0 L94.0,184.0 L94.5,184.0 L95.0,184.0 L95.5,184.0 L96.0,184.0 L96.5,184.0 L97.0,184.0 L97.5,184.0 L98.0,184.0 L98.5,184.0 L99.0,184.0 L99.5,184.0 L100.0,184.0 L100.5,184.0 L101.0,184.0 L101.5,184.0 L102.0,184.0 L102.5,184.0 L103.0,184.0 L103.5,184.0 L104.0,184.0 L104.5,184.0 L105.0,184.0 L105.5,184.0 L106.0,184.0 L106.5,184.0 L107.0,184.0 L107.5,184.0 L108.0,184.0 L108.5,184.0 L109.0,184.0 L109.5,184.0 L110.0,184.0 L110.5,184.0 L111.0,184.0 L111.5,184.0 L112.0,184.0 L112.5,184.0 L113.0,184.0 L113.5,184.0 L114.0,184.0 L114.5,184.0 L115.0,184.0 L115.5,184.0 L116.0,184.0 L116.5,184.0 L117.0,184.0 L117.5,184.0 L118.0,184.0 L118.5,184.0 L119.0,184.0 L119.5,184.0 L120.0,184.0 L120.5,184.0 L121.0,184.0 L121.5,184.0 L122.0,184.0 L122.5,184.0 L123.0,184.0 L123.5,184.0 L124.0,184.0 L124.5,184.0 L125.0,184.0 L125.5,184.0 L126.0,184.0 L126.5,184.0 L127.0,184.0 L127.5,184.0 L128.0,184.0 L128.5,184.0 L129.0,184.0 L129.5,184.0 L130.0,184.0 L130.5,184.0 L131.0,184.0 L131.5,184.0 L132.0,184.0 L132.5,184.0 L133.0,184.0 L133.5,184.0 L134.0,184.0 L134.5,184.0 L135.0,184.0 L135.5,184.0 L136.0,184.0 L136.5,184.0 L137.0,184.0 L137.5,184.0 L138.0,184.0 L138.5,184.0 L139.0,184.0 L139.5,184.0 L140.0,184.0 L140.5,184.0 L141.0,184.0 L141.5,184.0 L142.0,184.0 L142.5,184.0 L143.0,184.0 L143.5,184.0 L144.0,184.0 L144.5,184.0 L145.0,184.0 L145.5,183.9 L146.0,183.9 L146.5,183.9 L147.0,183.9 L147.5,183.9 L148.0,183.9 L148.5,183.9 L149.0,183.9 L149.5,183.9 L150.0,183.9 L150.5,183.9 L151.0,183.9 L151.5,183.9 L152.0,183.9 L152.5,183.9 L153.0,184.0 L153.5,184.1 L154.0,184.3 L154.5,184.5 L155.0,184.7 L155.5,185.0 L156.0,185.2 L156.5,185.5 L157.0,185.7 L157.5,186.0 L158.0,186.2 L158.5,186.4 L159.0,186.7 L159.5,186.9 L160.0,187.2 L160.5,187.5 L161.0,187.7 L161.5,188.0 L162.0,188.3 L162.5,188.6 L163.0,188.9 L163.5,189.2 L164.0,189.5 L164.5,189.7 L165.0,190.0 L165.5,190.2 L166.0,190.5 L166.5,190.8 L167.0,191.1 L167.5,191.4 L168.0,191.7 L168.5,192.0 L169.0,192.3 L169.5,192.6 L170.0,192.8 L170.5,193.1 L171.0,193.3 L171.5,193.5 L172.0,193.6 L172.5,193.7 L173.0,193.7 L173.5,193.6 L174.0,193.4 L174.5,193.1 L175.0,192.7 L175.5,192.3 L176.0,191.8 L176.5,191.2 L177.0,190.7 L177.5,190.2 L178.0,189.7 L178.5,189.3 L179.0,188.8 L179.5,188.2 L180.0,187.7 L180.5,187.1 L181.0,186.5 L181.5,186.0 L182.0,185.6 L182.5,185.2 L183.0,185.0 L183.5,184.9 L184.0,184.9 L184.5,184.9 L185.0,184.9 L185.5,184.9 L186.0,184.9 L186.5,185.1 L187.0,185.3 L187.5,185.7 L188.0,186.1 L188.5,186.6 L189.0,187.0 L189.5,187.4 L190.0,187.7 L190.5,187.9 L191.0,188.0 L191.5,188.0 L192.0,188.0 L192.5,187.9 L193.0,187.9 L193.5,187.9 L194.0,187.8 L194.5,187.7 L195.0,187.6 L195.5,187.4 L196.0,187.0 L196.5,186.6 L197.0,186.0 L197.5,185.4 L198.0,184.7 L198.5,184.0 L199.0,183.3 L199.5,182.6 L200.0,182.0 L200.5,181.4 L201.0,180.7 L201.5,179.9 L202.0,179.2 L202.5,178.4 L203.0,177.6 L203.5,176.9 L204.0,176.2 L204.5,175.5 L205.0,175.0 L205.5,174.5 L206.0,174.2 L206.5,173.9 L207.0,173.7 L207.5,173.5 L208.0,173.3 L208.5,173.1 L209.0,172.9 L209.5,172.8 L210.0,172.7 L210.5,172.7 L211.0,172.7 L211.5,172.8 L212.0,172.9 L212.5,173.1 L213.0,173.3 L213.5,173.5 L214.0,173.8 L214.5,174.0 L215.0,174.3 L215.5,174.5 L216.0,174.8 L216.5,175.0 L217.0,175.2 L217.5,175.5 L218.0,175.8 L218.5,176.2 L219.0,176.5 L219.5,176.8 L220.0,177.2 L220.5,177.5 L221.0,177.8 L221.5,178.2 L222.0,178.5 L222.5,178.8 L223.0,179.1 L223.5,179.4 L224.0,179.6 L224.5,179.8 L225.0,180.0 L225.5,180.2 L226.0,180.3 L226.5,180.4 L227.0,180.5 L227.5,180.7 L228.0,180.8 L228.5,180.9 L229.0,180.9 L229.5,181.0 L230.0,181.1 L230.5,181.3 L231.0,181.4 L231.5,181.5 L232.0,181.6 L232.5,181.8 L233.0,182.0 L233.5,182.2 L234.0,182.4 L234.5,182.6 L235.0,182.9 L235.5,183.1 L236.0,183.4 L236.5,183.7 L237.0,184.0 L237.5,184.3 L238.0,184.6 L238.5,185.0 L239.0,185.3 L239.5,185.6 L240.0,186.0 L240.5,186.4 L241.0,186.8 L241.5,187.2 L242.0,187.7 L242.5,188.2 L243.0,188.7 L243.5,189.2 L244.0,189.8 L244.5,190.3 L245.0,190.8 L245.5,191.4 L246.0,191.9 L246.5,192.5 L247.0,193.0 L247.5,193.5 L248.0,194.0 L248.5,194.5 L249.0,195.1 L249.5,195.6 L250.0,196.1 L250.5,196.7 L251.0,197.2 L251.5,197.7 L252.0,198.2 L252.5,198.7 L253.0,199.2 L253.5,199.7 L254.0,200.2 L254.5,200.6 L255.0,201.0 L255.5,201.4 L256.0,201.9 L256.5,202.3 L257.0,202.7 L257.5,203.1 L258.0,203.5 L258.5,203.8 L259.0,203.9 L259.5,204.0 L260.0,203.7 L260.5,202.9 L261.0,201.7 L261.5,200.2 L262.0,198.7 L262.5,197.1 L263.0,195.6 L263.5,194.4 L264.0,193.1 L264.5,191.7 L265.0,190.3 L265.5,188.9 L266.0,187.6 L266.5,186.4 L267.0,185.4 L267.5,184.5 L268.0,183.9 L268.5,183.3 L269.0,182.8 L269.5,182.3 L270.0,182.0 L270.5,181.8 L271.0,181.8 L271.5,182.2 L272.0,182.8 L272.5,183.6 L273.0,184.4 L273.5,185.3 L274.0,186.1 L274.5,186.8 L275.0,187.3 L275.5,187.9 L276.0,188.5 L276.5,189.1 L277.0,189.6 L277.5,189.9 L278.0,190.2 L278.5,190.3 L279.0,190.2 L279.5,189.9 L280.0,189.5 L280.5,188.9 L281.0,188.2 L281.5,187.5 L282.0,186.6 L282.5,185.8 L283.0,184.9 L283.5,184.0 L284.0,182.9 L284.5,181.6 L285.0,180.1 L285.5,178.5 L286.0,176.9 L286.5,175.2 L287.0,173.7 L287.5,172.3 L288.0,171.0 L288.5,170.0 L289.0,169.0 L289.5,168.0 L290.0,167.1 L290.5,166.2 L291.0,165.3 L291.5,164.6 L292.0,164.0 L292.5,163.5 L293.0,163.2 L293.5,163.0 L294.0,162.7 L294.5,162.5 L295.0,162.4 L295.5,162.2 L296.0,162.1 L296.5,162.0 L297.0,161.9 L297.5,161.8 L298.0,161.8 L298.5,161.9 L299.0,162.0 L299.5,162.3 L300.0,162.6 L300.5,163.0 L301.0,163.4 L301.5,163.8 L302.0,164.3 L302.5,164.8 L303.0,165.2 L303.5,165.6 L304.0,166.0 L304.5,166.4 L305.0,166.8 L305.5,167.2 L306.0,167.6 L306.5,168.0 L307.0,168.5 L307.5,168.9 L308.0,169.3 L308.5,169.8 L309.0,170.2 L309.5,170.7 L310.0,171.1 L310.5,171.6 L311.0,172.0 L311.5,172.4 L312.0,172.9 L312.5,173.3 L313.0,173.7 L313.5,174.1 L314.0,174.5 L314.5,174.9 L315.0,175.3 L315.5,175.7 L316.0,176.2 L316.5,176.6 L317.0,177.1 L317.5,177.6 L318.0,178.2 L318.5,178.8 L319.0,179.4 L319.5,180.0 L320.0,180.7 L320.5,181.5 L321.0,182.2 L321.5,183.1 L322.0,183.9 L322.5,184.8 L323.0,185.7 L323.5,186.6 L324.0,187.5 L324.5,188.5 L325.0,189.5 L325.5,190.5 L326.0,191.6 L326.5,192.8 L327.0,193.9 L327.5,195.2 L328.0,196.4 L328.5,197.7 L329.0,199.0 L329.5,200.4 L330.0,201.8 L330.5,203.3 L331.0,204.8 L331.5,206.3 L332.0,207.9 L332.5,209.5 L333.0,211.1 L333.5,212.7 L334.0,214.4 L334.5,216.0 L335.0,217.7 L335.5,219.4 L336.0,221.2 L336.5,222.9 L337.0,224.7 L337.5,226.5 L338.0,228.3 L338.5,230.1 L339.0,232.0" stroke="#7E2F8E" stroke-width="3.3"/>
<path d="M341.75,359.59999999999997 L341.75,9.1" stroke="#000" stroke-width="2.2" stroke-dasharray="6.4 5.99"/>
</g>
<g stroke="#5e5e5e" stroke-width="1" fill="none">
<path d="M64.5,9.1 L64.5,359.2 M64.0,359.2 L520,359.2 M64.0,9.1 L520,9.1"/>
<path d="M140.6,359.2 L140.6,354.2 M140.6,9.1 L140.6,14.1"/>
<path d="M311.5,359.2 L311.5,354.2 M311.5,9.1 L311.5,14.1"/>
<path d="M481.6,359.2 L481.6,354.2 M481.6,9.1 L481.6,14.1"/>
<path d="M64.5,96.6 L70.0,96.6 M516.5,96.6 L520,96.6"/>
<path d="M64.5,184.1 L70.0,184.1 M516.5,184.1 L520,184.1"/>
<path d="M64.5,271.6 L70.0,271.6 M516.5,271.6 L520,271.6"/>
</g>
<text class="tk" transform="translate(140.20,382.80) scale(1.06,1)" text-anchor="middle" >5</text>
<text class="tk" transform="translate(311.10,382.80) scale(1.06,1)" text-anchor="middle" >10</text>
<text class="tk" transform="translate(481.20,382.80) scale(1.06,1)" text-anchor="middle" >15</text>
<text class="tk" transform="translate(57.90,14.20) scale(1.06,1)" text-anchor="end" >10</text>
<text class="tk" transform="translate(57.90,101.70) scale(1.06,1)" text-anchor="end" >5</text>
<text class="tk" transform="translate(57.90,189.20) scale(1.06,1)" text-anchor="end" >0</text>
<text class="tk" transform="translate(57.90,276.70) scale(1.06,1)" text-anchor="end" >-5</text>
<text class="tk" transform="translate(57.90,364.30) scale(1.06,1)" text-anchor="end" >-10</text>
<text class="lb2" transform="translate(267.90,409.00) scale(0.965,1)" text-anchor="start" >z</text>
<text class="lb2" transform="translate(292.50,409.00) scale(0.965,1)" text-anchor="start" >m</text>
<text class="br" transform="translate(286.9,410.2) scale(0.6,1.22)">[</text>
<text class="br" transform="translate(310.9,410.2) scale(0.6,1.22)">]</text>
<text class="tk" transform="translate(458.90,409.70) scale(1.0,1)" text-anchor="start" style="font-size:23.5px">×</text>
<text class="tk" transform="translate(473.30,408.20) scale(1.06,1)" text-anchor="start" >10</text>
<text class="tk" transform="translate(495.00,401.70) scale(1.0,1)" text-anchor="start" style="font-size:17px">−</text>
<text class="tk" transform="translate(505.60,399.30) scale(1.03,1)" text-anchor="start" style="font-size:14px">10</text>
<g transform="translate(20.7,230) rotate(-90)">
<text class="lbi" transform="translate(3.00,0.00) scale(1.15,1)" text-anchor="start" >V</text>
<text class="lbi" style="font-size:15px" letter-spacing="1.8" x="22.4" y="3.3">xy</text>
<text class="lb2" transform="translate(54.60,0.00) scale(0.945,1)" text-anchor="start" >e</text>
<text class="lb2" transform="translate(65.60,0.00) scale(0.945,1)" text-anchor="start" >V</text>
<text class="br" transform="translate(50.3,1.5) scale(0.6,1.22)">[</text>
<text class="br" transform="translate(82.0,1.5) scale(0.6,1.22)">]</text>
<path d="M3.3,-19 L22.7,-19" stroke="#222" stroke-width="1"/></g>
<rect x="351.1" y="19.4" width="159.2" height="72.8" fill="#fff" stroke="#5e5e5e" stroke-width="1"/>
<path d="M355,32.4 L389,32.4" stroke="#0072BD" stroke-width="3.0"/>
<text class="lg" x="391.2" y="39.3">SiC/SiO2</text>
<path d="M355,55.9 L389,55.9" stroke="#D95319" stroke-width="3.0"/>
<text class="lg" x="391.2" y="62.4">Bulk</text>
<path d="M355,78.7 L389,78.7" stroke="#7E2F8E" stroke-width="3.0"/>
<text class="lg" x="391.2" y="85.1">Perturbation</text>
</svg></body></html>
